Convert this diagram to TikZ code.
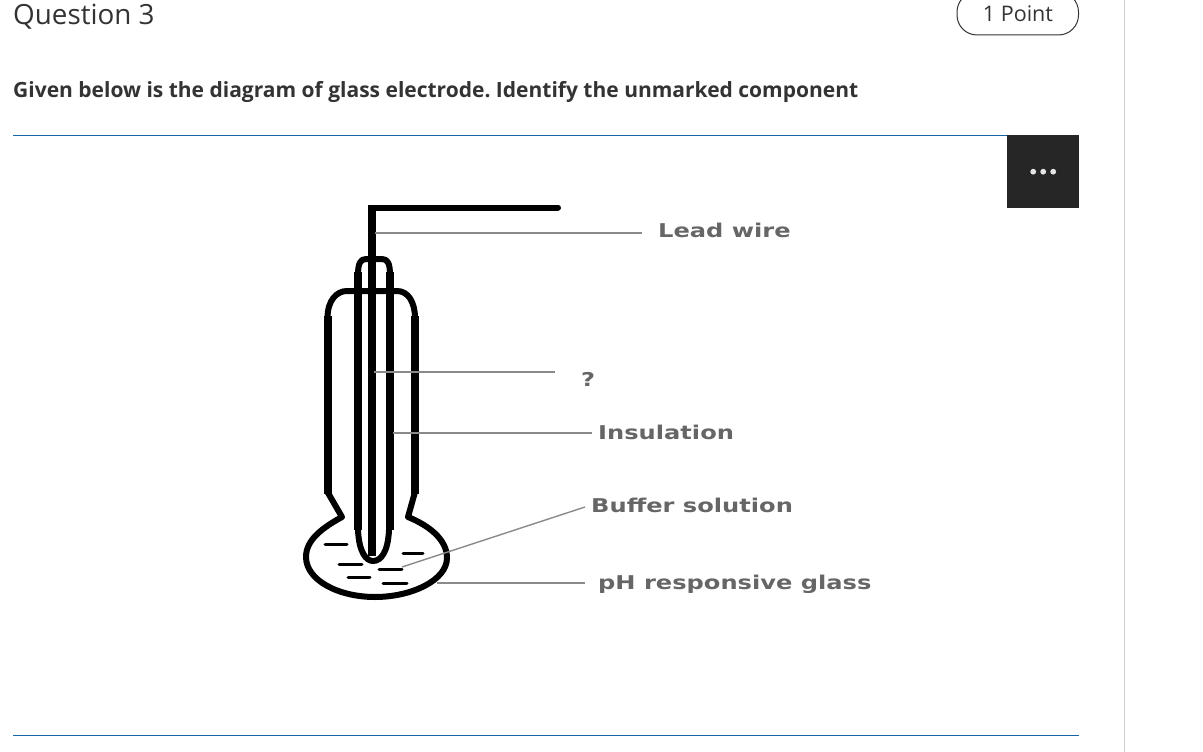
\documentclass[tikz,border=0pt]{standalone}
\usepackage{fontspec}
\setmainfont{Open Sans}
\newfontfamily\figfont[FakeStretch=1.27]{DejaVu Sans}
\frenchspacing
\definecolor{inkgray}{HTML}{333333}
\definecolor{figgray}{HTML}{666666}
\definecolor{leadgray}{HTML}{8A8A8A}
\definecolor{boxgray}{HTML}{262626}
\definecolor{railgray}{HTML}{CCCCCC}
\definecolor{ruleblue}{HTML}{1565A8}
\tikzset{
    glass/.style={line width=6pt,black,line cap=round,line join=round},
    wall/.style={line width=8pt,black},
    dashmark/.style={line width=3pt,black,line cap=round},
    leader/.style={line width=1.4pt,leadgray},
    figlabel/.style={anchor=west,inner sep=0pt,text=figgray,font=\figfont\bfseries\fontsize{19}{19}\selectfont},
    rule/.style={line width=1.3pt,ruleblue}
}
\begin{document}
\begin{tikzpicture}[x=1pt,y=-1pt]
    \useasboundingbox (0,0) rectangle (1203,752);
    % page furniture
    \node[anchor=west,inner sep=0pt,text=inkgray,font=\fontsize{27.8}{28}\selectfont] (title) at (13,17) {Question 3};
    \node[anchor=west,inner sep=0pt,text=inkgray,font=\bfseries\fontsize{21}{22}\selectfont] (prompt) at (13,92) {Given below is the diagram of glass electrode. Identify the unmarked component};
    \draw[line width=1pt,inkgray,rounded corners=20pt] (957,-8) rectangle (1078.5,35);
    \node[text=inkgray,inner sep=0pt,font=\fontsize{21.5}{22}\selectfont] (points) at (1018,14) {1 Point};
    \draw[rule] (13,135.5) -- (1007,135.5);
    \draw[rule] (13,735.5) -- (1079,735.5);
    \draw[line width=1.2pt,railgray] (1124.5,0) -- (1124.5,752);
    \node[fill=boxgray,minimum width=72pt,minimum height=73pt,inner sep=0pt,anchor=north west] (menu) at (1007,135) {};
    \foreach \dx in {-10,0,10}
        \fill[white!90!black] ([xshift=\dx pt]menu.center) circle (2.9pt);
    % electrode
    \draw[glass] (558,207.5) -- (371,207.5);
    \draw[wall] (372,205) -- (372,556);
    \draw[glass] (358,275) .. controls (358,264) and (360,259) .. (366,259) -- (382,259) .. controls (388,259) and (390,264) .. (390,275);
    \draw[wall] (358,272) -- (358,530);
    \draw[wall] (389.5,272) -- (389.5,530);
    \draw[glass] (358,530) .. controls (359,552) and (366,561) .. (373,561) .. controls (381,561) and (388,552) .. (389,530);
    \draw[glass] (327.5,318) .. controls (327.5,300) and (337,291) .. (347,291) -- (397,291) .. controls (408,291) and (415,302) .. (415,318);
    \draw[wall] (327.5,316) -- (327.5,494);
    \draw[wall] (415,316) -- (415,494);
    \draw[glass] (415,492) -- (408,517)
        .. controls (430,526) and (447,540) .. (447,558)
        .. controls (447,580) and (412,597) .. (375,597) .. controls (338,597) and (306,580) .. (306,557)
        .. controls (306,540) and (322,528) .. (342,517) -- (327.5,492);
    \foreach \xa/\xb/\ya in {325/347/544,403/423/553,339/362/564,379/402/569,348/370/577,383/407/583}
        \draw[dashmark] (\xa,\ya) -- (\xb,\ya);
    % labels
    \node[figlabel] (wire) at (658,230) {Lead wire};
    \node[figlabel] (unknown) at (581,379) {?};
    \node[figlabel] (insul) at (598,432) {Insulation};
    \node[figlabel] (buffer) at (591,505) {Buffer solution};
    \node[figlabel] (phglass) at (598,584) {pH responsive glass};
    % leaders
    \coordinate (wireend) at (375,233);
    \coordinate (unknownend) at (374,372);
    \coordinate (insulend) at (393,433);
    \coordinate (bufferend) at (402,567);
    \coordinate (phend) at (437,583);
    \draw[leader] (wireend) -- (642,233);
    \draw[leader] (unknownend) -- (555,372);
    \draw[leader] (insulend) -- (592,433);
    \draw[leader] (bufferend) -- (585,507);
    \draw[leader] (phend) -- (585,583);
\end{tikzpicture}
\end{document}
